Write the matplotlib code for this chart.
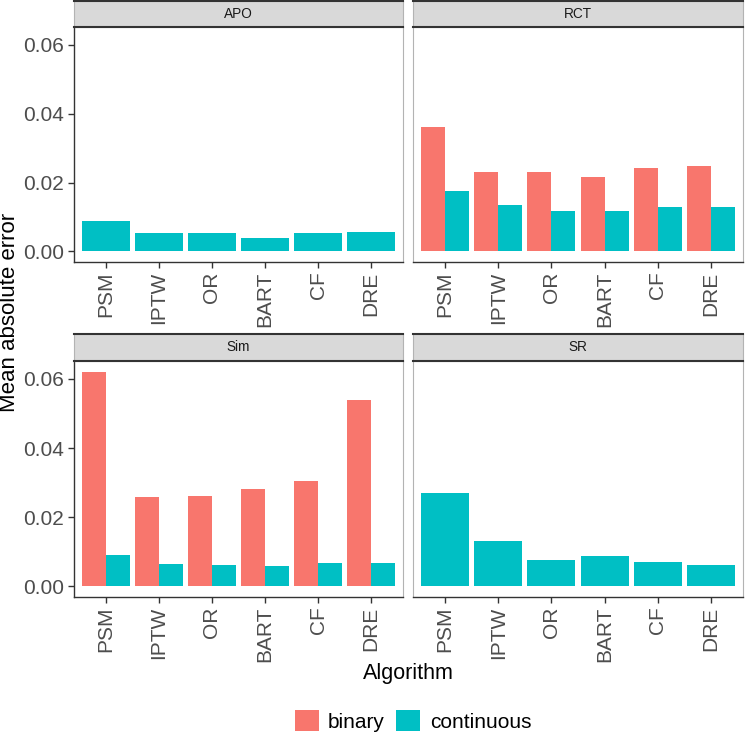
import matplotlib
matplotlib.use("Agg")
import matplotlib.pyplot as plt
from matplotlib.patches import Patch
import numpy as np

plt.rcParams['font.family'] = ['Liberation Sans', 'DejaVu Sans']

algorithms = ["PSM", "IPTW", "OR", "BART", "CF", "DRE"]
panels = ["APO", "RCT", "Sim", "SR"]
outcome_types = ["binary", "continuous"]
colors = {"binary": "#F8766D", "continuous": "#00BFC4"}

# values per panel (None = series absent in that panel)
apo_binary = None
apo_continuous = [0.0089, 0.0054, 0.0054, 0.0040, 0.0054, 0.0057]
rct_binary = [0.0360, 0.0231, 0.0231, 0.0217, 0.0243, 0.0249]
rct_continuous = [0.0176, 0.0135, 0.0118, 0.0118, 0.0130, 0.0130]
sim_binary = [0.0621, 0.0257, 0.0260, 0.0283, 0.0306, 0.0540]
sim_continuous = [0.0090, 0.0064, 0.0061, 0.0058, 0.0066, 0.0066]
sr_binary = None
sr_continuous = [0.0269, 0.0130, 0.0075, 0.0087, 0.0069, 0.0061]

data = {
    "APO": {"binary": apo_binary, "continuous": apo_continuous},
    "RCT": {"binary": rct_binary, "continuous": rct_continuous},
    "Sim": {"binary": sim_binary, "continuous": sim_continuous},
    "SR": {"binary": sr_binary, "continuous": sr_continuous},
}
yticks = [0.00, 0.02, 0.04, 0.06]
ytick_labels = ["0.00", "0.02", "0.04", "0.06"]

W, H = 748, 738
fig = plt.figure(figsize=(W / 100, H / 100), dpi=100)

def px_axes(x0, y0, x1, y1):
    return fig.add_axes([x0 / W, 1 - y1 / H, (x1 - x0) / W, (y1 - y0) / H])

cols = [(74, 403), (413, 743)]
rows = [((1, 27), (27, 262)), ((334, 361), (361, 597))]

allmax = max(max(v) for p in data.values() for v in p.values() if v is not None)
ylim = (-0.05 * allmax, 1.05 * allmax)

dark = "#333333"
light = "#B3B3B3"
textgray = "#4D4D4D"

for i, pname in enumerate(panels):
    r, c = divmod(i, 2)
    (sy0, sy1), (py0, py1) = rows[r]
    x0, x1 = cols[c]
    ax = px_axes(x0, py0, x1, py1)
    present = [t for t in outcome_types if data[pname][t] is not None]
    n = len(present)
    total = 0.9
    w = total / n
    xs = np.arange(1, len(algorithms) + 1)
    for k, t in enumerate(present):
        offs = -total / 2 + w * (k + 0.5)
        ax.bar(xs + offs, data[pname][t], width=w, color=colors[t], linewidth=0)
    ax.set_xlim(0.4, len(algorithms) + 0.6)
    ax.set_ylim(*ylim)
    ax.set_xticks(xs)
    ax.set_xticklabels(algorithms, rotation=90, fontsize=15, color=textgray)
    ax.set_yticks(yticks)
    if c == 0:
        ax.set_yticklabels(ytick_labels, fontsize=15, color=textgray)
    else:
        ax.tick_params(axis="y", left=False, labelleft=False)
    ax.tick_params(axis="both", length=4, width=1.0, color=dark, pad=3)
    for s in ["left", "bottom"]:
        ax.spines[s].set_color(dark)
        ax.spines[s].set_linewidth(1.0)
    for s in ["right", "top"]:
        ax.spines[s].set_color(light)
        ax.spines[s].set_linewidth(0.8)
    if c == 1:
        ax.spines["left"].set_color(light)
        ax.spines["left"].set_linewidth(0.8)

    sax = px_axes(x0, sy0, x1, sy1)
    sax.set_facecolor("#D9D9D9")
    sax.set_xticks([])
    sax.set_yticks([])
    for s in ["top", "bottom"]:
        sax.spines[s].set_color(dark)
        sax.spines[s].set_linewidth(1.5)
    for s in ["left", "right"]:
        sax.spines[s].set_color(light)
        sax.spines[s].set_linewidth(0.8)
    sax.text(0.5, 0.5, pname, ha="center", va="center", fontsize=9.8,
             color="#1A1A1A", transform=sax.transAxes)

fig.text(10 / W, 1 - 312 / H, "Mean absolute error", rotation=90, ha="center",
         va="center", fontsize=16, color="black")
fig.text(408 / W, 1 - 674 / H, "Algorithm", ha="center", va="center",
         fontsize=15.5, color="black")

handles = [Patch(facecolor=colors[t], edgecolor="none", label=t) for t in outcome_types]
fig.legend(handles=handles, loc="center", bbox_to_anchor=(413 / W, 1 - 721 / H),
           ncol=2, frameon=False, fontsize=15, handlelength=1.15, handleheight=1.15,
           handletextpad=0.45, columnspacing=0.55, borderaxespad=0)

fig.savefig("out.png", dpi=100)
